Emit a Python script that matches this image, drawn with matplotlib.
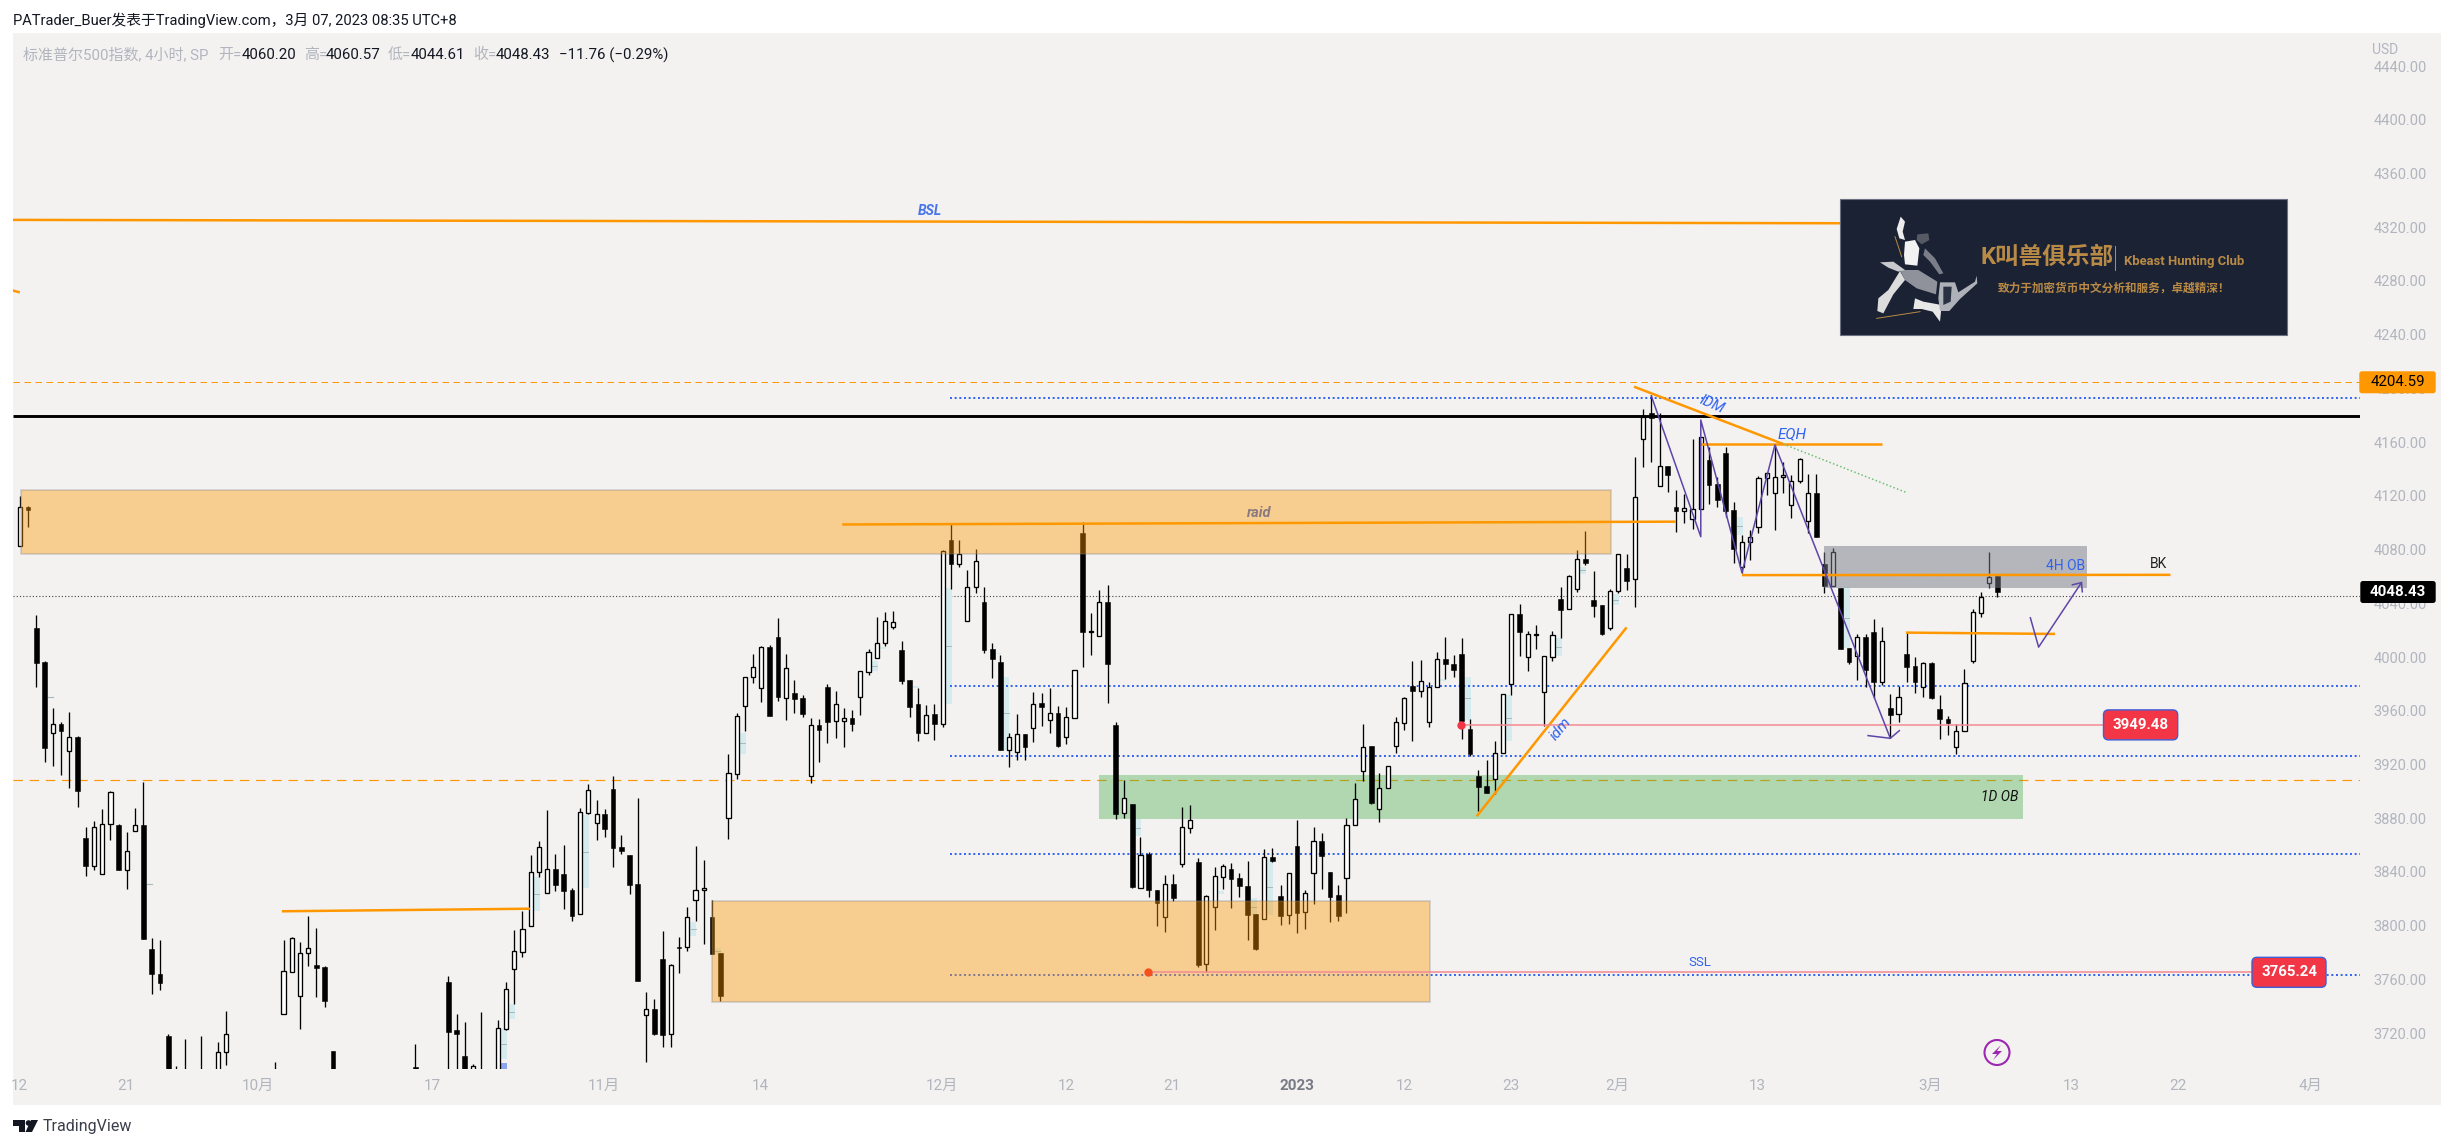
import numpy as np
import matplotlib
matplotlib.use("Agg")
import matplotlib.pyplot as plt
from matplotlib.patches import Rectangle, Polygon, FancyBboxPatch, Circle

plt.rcParams["font.family"] = ["Roboto", "Noto Sans CJK SC", "DejaVu Sans"]

W, H = 2454, 1148
PANE_L, PANE_R, PANE_T, PANE_B = 12.5, 2360, 33, 1069
BAR0_PX, BAR_PX = 36.3, 8.24
PRICE_REF, PRICE_REF_PX, PX_PER_PT = 4080, 549.6, 1.343

FIRST_BAR = -2
nan = np.nan
opens = [
    4082.9, 4111.9,
    4021.7, 3996.3, 3943.8, 3950.0, 3929.9, 3940.5, 3865.6, 3844.7, 3838.8, 3875.4,
    3874.9, 3841.6, 3870.7, 3874.9, 3782.4, 3763.8, 3717.7, 3685.0, 3690.0, nan,
    3690.0, nan, 3680.0, 3705.7, nan, nan, nan, nan, nan, 3690.0,
    3733.9, 3765.7, 3747.3, 3779.4, 3770.4, 3769.3, 3706.8, nan, nan, nan,
    nan, nan, nan, nan, nan, nan, 3694.8, nan, nan, nan,
    3757.9, 3722.4, 3702.6, 3688.0, 3690.0, nan, 3680.0, 3722.7, 3767.9, 3780.2,
    3799.5, 3839.7, 3824.1, 3842.0, 3838.3, 3826.3, 3808.4, 3884.1, 3876.3, 3883.0,
    3901.7, 3858.7, 3852.5, 3831.0, 3733.3, 3737.8, 3774.9, 3719.0, 3784.1, 3783.8,
    3818.8, 3826.3, 3806.2, 3779.4, 3879.9, 3913.1, 3963.4, 3984.9, 3977.3, 4007.5,
    4015.0, 3969.2, 3973.1, 3969.2, 3911.2, 3949.1, 3977.6, 3952.2, 3952.2, 3954.4,
    3970.1, 3988.5, 3999.1, 4010.8, 4022.6, 4005.3, 3982.6, 3964.8, 3943.8, 3957.5,
    3950.5, 4087.2, 4069.0, 4026.5, 4051.9, 4041.0, 4005.8, 3996.4, 3931.1, 3929.1,
    3943.0, 3947.5, 3965.7, 3952.8, 3958.7, 3940.8, 3954.8, 4092.4, 4019.0, 4015.4,
    4041.1, 3949.5, 3883.6, 3890.3, 3828.3, 3853.7, 3826.9, 3806.8, 3830.8, 3845.9,
    3873.0, 3847.3, 3771.1, 3814.0, 3836.4, 3842.3, 3835.3, 3829.2, 3808.5, 3805.2,
    3851.0, 3821.9, 3807.7, 3859.0, 3809.9, 3839.5, 3862.7, 3839.8, 3822.5, 3835.3,
    3874.7, 3915.4, 3933.6, 3886.7, 3902.8, 3934.1, 3951.2, 3978.3, 3974.9, 3952.0,
    3977.4, 3998.3, 3994.5, 4002.0, 3946.1, 3911.2, 3903.7, 3909.0, 3928.8, 3979.7,
    4032.0, 3999.8, 4016.7, 3973.7, 4000.3, 4043.0, 4035.5, 4050.9, 4073.0, 4042.2,
    4038.5, 4021.9, 4048.9, 4066.0, 4057.8, 4162.1, 4181.5, 4127.6, 4142.0, 4111.5,
    4109.0, 4102.5, 4110.0, 4146.7, 4128.8, 4151.9, 4109.5, 4067.3, 4085.4, 4096.6,
    4133.1, 4122.4, 4133.8, 4113.5, 4131.3, 4101.5, 4121.9, 4069.0, 4052.9, 4051.6,
    4006.7, 4001.0, 4014.7, 4018.4, 3981.4, 3961.8, 3957.3, 4002.0, 3993.3, 3977.4,
    3995.3, 3961.1, 3953.6, 3932.8, 3944.7, 3997.3, 4033.0, 4054.9, 4060.2,
]
highs = [
    4119.9, 4112.5,
    4031.2, 3997.4, 3961.7, 3951.6, 3959.2, 3941.0, 3873.5, 3878.0, 3886.9, 3900.5,
    3875.4, 3869.6, 3887.7, 3907.0, 3790.8, 3789.1, 3719.1, 3695.3, 3715.7, nan,
    3717.7, nan, 3713.5, 3736.4, nan, nan, nan, nan, nan, 3698.7,
    3789.1, 3791.4, 3787.5, 3807.3, 3798.4, 3770.2, 3707.0, nan, nan, nan,
    nan, nan, nan, nan, nan, nan, 3711.5, nan, nan, nan,
    3762.3, 3733.9, 3728.3, 3696.7, 3735.8, nan, 3729.7, 3758.2, 3796.4, 3810.9,
    3852.5, 3863.1, 3886.3, 3853.1, 3860.0, 3827.7, 3887.4, 3905.3, 3893.3, 3886.9,
    3911.2, 3867.6, 3852.5, 3894.7, 3750.6, 3745.6, 3795.8, 3771.8, 3791.7, 3813.7,
    3859.2, 3848.9, 3818.8, 3779.4, 3927.9, 3958.3, 3984.9, 4001.9, 4008.0, 4008.6,
    4029.0, 4002.5, 3982.6, 3971.7, 3954.7, 3953.6, 3979.6, 3974.8, 3961.7, 3960.6,
    3989.3, 4006.1, 4029.8, 4033.7, 4034.6, 4012.0, 3982.6, 3976.8, 3964.2, 3965.0,
    4079.7, 4100.0, 4087.2, 4064.8, 4080.5, 4052.2, 4010.3, 4001.2, 3943.3, 3957.6,
    3943.0, 3974.0, 3973.5, 3976.9, 3963.5, 3962.9, 3990.0, 4100.5, 4032.7, 4050.0,
    4053.4, 3951.5, 3908.5, 3890.3, 3866.0, 3854.8, 3826.9, 3837.8, 3838.6, 3888.3,
    3889.8, 3850.4, 3823.0, 3843.4, 3845.6, 3846.5, 3839.2, 3847.9, 3808.5, 3856.8,
    3857.6, 3830.3, 3839.5, 3878.8, 3826.4, 3873.6, 3868.8, 3839.8, 3830.3, 3880.5,
    3906.2, 3950.0, 3933.6, 3913.5, 3918.8, 3955.3, 3970.4, 3996.9, 3997.8, 3981.6,
    4003.4, 4014.6, 4001.2, 4014.3, 3954.2, 3916.0, 3923.0, 3937.2, 3972.2, 4032.0,
    4039.2, 4019.6, 4023.9, 4000.8, 4019.6, 4051.9, 4061.3, 4079.4, 4094.1, 4064.0,
    4038.5, 4050.7, 4076.5, 4076.7, 4148.7, 4184.7, 4195.1, 4182.0, 4142.0, 4124.4,
    4121.4, 4162.1, 4164.0, 4156.1, 4133.8, 4156.1, 4115.4, 4090.9, 4094.6, 4134.8,
    4138.0, 4157.9, 4145.5, 4135.5, 4148.0, 4136.3, 4136.3, 4078.5, 4080.9, 4051.6,
    4006.7, 4016.9, 4016.9, 4028.6, 4022.1, 3972.5, 3978.4, 4017.6, 3999.8, 3996.6,
    3996.6, 3971.7, 3956.1, 3950.1, 3990.8, 4035.5, 4048.2, 4078.0, 4060.57,
]
lows = [
    4082.9, 4097.0,
    3977.9, 3921.5, 3919.0, 3912.3, 3902.8, 3888.5, 3837.2, 3841.1, 3838.8, 3863.4,
    3841.6, 3827.4, 3870.7, 3789.7, 3749.2, 3752.3, 3675.0, 3670.0, 3670.0, nan,
    3670.0, nan, 3675.0, 3696.2, nan, nan, nan, nan, nan, 3680.0,
    3733.9, 3765.7, 3722.7, 3770.2, 3747.0, 3739.7, 3680.0, nan, nan, nan,
    nan, nan, nan, nan, nan, nan, 3680.0, nan, nan, nan,
    3685.0, 3685.0, 3680.0, 3685.0, 3680.0, nan, 3675.0, 3722.0, 3742.0, 3776.9,
    3799.5, 3836.3, 3824.1, 3826.0, 3812.6, 3803.7, 3808.4, 3883.0, 3863.4, 3866.2,
    3843.9, 3853.1, 3823.8, 3759.0, 3698.7, 3718.8, 3709.9, 3709.3, 3765.1, 3780.8,
    3803.7, 3786.6, 3779.1, 3744.2, 3864.8, 3909.2, 3945.2, 3980.7, 3966.7, 3956.4,
    3967.6, 3953.3, 3958.6, 3955.0, 3906.1, 3922.0, 3936.3, 3939.4, 3933.2, 3945.2,
    3957.2, 3986.8, 3999.1, 4008.3, 4020.6, 3980.1, 3955.6, 3937.7, 3943.8, 3938.2,
    3947.7, 4050.8, 4066.8, 4026.5, 4047.9, 4003.0, 3984.6, 3930.8, 3918.2, 3923.0,
    3923.0, 3936.4, 3948.4, 3943.3, 3933.3, 3935.3, 3954.8, 3992.8, 4001.2, 4015.4,
    3966.0, 3879.4, 3880.2, 3828.3, 3828.3, 3821.3, 3799.6, 3795.1, 3818.0, 3843.7,
    3868.8, 3769.4, 3765.5, 3796.8, 3827.5, 3813.5, 3821.3, 3789.0, 3781.7, 3805.2,
    3847.6, 3800.7, 3801.2, 3794.5, 3797.3, 3815.8, 3827.5, 3802.9, 3803.8, 3809.3,
    3874.7, 3907.9, 3890.9, 3877.2, 3902.8, 3928.6, 3945.6, 3937.5, 3969.9, 3948.1,
    3977.4, 3983.8, 3985.2, 3939.2, 3926.6, 3885.6, 3898.4, 3898.1, 3928.8, 3971.7,
    4000.8, 3989.9, 4005.7, 3948.7, 3997.3, 4013.9, 4035.5, 4048.7, 4068.8, 4030.0,
    4016.2, 4020.1, 4047.9, 4049.9, 4037.5, 4141.8, 4145.5, 4127.6, 4123.1, 4093.4,
    4100.0, 4095.6, 4110.0, 4114.0, 4112.0, 4104.5, 4069.8, 4062.3, 4072.2, 4092.6,
    4120.7, 4094.6, 4121.9, 4103.3, 4129.8, 4092.1, 4089.6, 4047.9, 4052.9, 4006.0,
    3994.8, 3982.9, 3977.4, 3969.2, 3979.2, 3940.7, 3951.6, 3981.7, 3973.5, 3970.5,
    3968.7, 3939.0, 3941.7, 3927.8, 3944.7, 3995.3, 4030.0, 4051.2, 4044.61,
]
closes = [
    4111.5, 4109.5,
    3995.8, 3932.1, 3950.5, 3945.2, 3940.2, 3900.5, 3844.7, 3873.2, 3875.4, 3899.2,
    3841.6, 3855.3, 3874.6, 3789.7, 3763.8, 3757.6, 3680.0, 3680.0, 3680.0, nan,
    3680.0, nan, 3705.7, 3719.1, nan, nan, nan, nan, nan, 3685.0,
    3766.0, 3790.5, 3779.4, 3783.0, 3768.8, 3744.2, 3685.0, nan, nan, nan,
    nan, nan, nan, nan, nan, nan, 3690.0, nan, nan, nan,
    3720.5, 3719.6, 3685.0, 3695.3, 3685.0, nan, 3723.5, 3752.6, 3780.8, 3797.2,
    3839.7, 3858.9, 3842.0, 3829.9, 3826.0, 3807.0, 3884.4, 3900.8, 3883.0, 3871.8,
    3858.1, 3855.6, 3830.5, 3759.0, 3737.8, 3719.3, 3718.8, 3770.4, 3783.0, 3806.2,
    3826.3, 3827.7, 3779.1, 3747.6, 3913.4, 3955.8, 3984.9, 3992.4, 4007.5, 3956.4,
    3970.3, 3991.6, 3969.0, 3957.5, 3949.1, 3946.0, 3951.9, 3964.8, 3954.4, 3950.0,
    3989.3, 4003.6, 4010.8, 4026.5, 4025.9, 3982.4, 3963.1, 3943.8, 3957.2, 3950.5,
    4079.2, 4069.0, 4076.5, 4051.9, 4071.3, 4005.3, 3998.3, 3930.8, 3940.8, 3943.0,
    3933.3, 3965.4, 3962.9, 3958.7, 3933.9, 3955.1, 3990.0, 4019.0, 4019.3, 4040.8,
    3995.0, 3883.3, 3895.3, 3828.9, 3852.3, 3826.9, 3817.2, 3830.8, 3820.5, 3873.3,
    3878.3, 3770.5, 3821.9, 3836.7, 3844.2, 3835.0, 3829.2, 3807.9, 3782.8, 3851.0,
    3848.1, 3807.4, 3839.0, 3809.3, 3824.1, 3862.7, 3852.0, 3821.3, 3807.4, 3874.7,
    3894.5, 3933.3, 3891.4, 3902.8, 3918.8, 3951.5, 3969.3, 3974.9, 3982.4, 3977.7,
    3998.9, 3994.7, 3990.5, 3952.6, 3928.0, 3902.9, 3898.4, 3928.8, 3972.2, 4032.0,
    4018.9, 4016.9, 4017.2, 4000.8, 4016.2, 4035.0, 4060.3, 4072.7, 4069.8, 4038.3,
    4017.2, 4049.2, 4076.5, 4056.9, 4118.9, 4178.7, 4178.2, 4142.0, 4135.5, 4109.0,
    4110.7, 4110.0, 4163.6, 4128.1, 4117.2, 4109.0, 4080.7, 4085.4, 4089.6, 4133.1,
    4136.8, 4133.8, 4135.8, 4131.3, 4147.2, 4121.9, 4089.6, 4053.2, 4078.5, 4006.0,
    3996.3, 4014.7, 3990.3, 3981.4, 4011.7, 3957.1, 3970.0, 3992.8, 3981.7, 3995.3,
    3969.2, 3953.6, 3951.1, 3944.7, 3980.9, 4033.3, 4045.0, 4059.8, 4048.43,
]

# fair value gaps: bar, top, bottom
gap_bars = [56, 57, 60, 66, 79, 82, 85, 101, 102, 106, 110, 116, 117, 133, 143, 147, 149,
            170, 173, 178, 184, 187, 191, 206, 219]
gap_tops = [3723.3, 3741.4, 3836.3, 3882.4, 3802.8, 3783.0, 3943.8, 3996.9, 4007.5, 3978.7,
            4051.3, 4003.0, 3985.2, 3879.2, 3826.0, 3820.5, 3849.8,
            3983.8, 3985.2, 3971.7, 4013.9, 4067.3, 4046.7, 4104.5, 4051.9]
gap_bots = [3700.9, 3730.3, 3811.2, 3828.0, 3792.2, 3779.0, 3927.9, 3989.9, 4006.0, 3977.3,
            3965.3, 4002.0, 3930.8, 3866.6, 3823.8, 3808.0, 3808.0,
            3982.4, 3953.1, 3937.7, 4001.0, 4061.8, 4038.7, 4090.9, 4006.5]
stray_tick_bars = [1, 13]
stray_tick_prices = [3970.0, 3830.7]

# drawn zones: left, right (bars), top, bottom
orange_zones = [(-1.9, 191.1, 4124.4, 4076.8), (82.0, 169.1, 3818.7, 3743.4)]
green_zone = (129.0, 241.1, 3912.1, 3879.2)
gray_zone = (217.0, 248.9, 4082.9, 4051.6)

blue_levels = [4192.9, 3978.5, 3926.6, 3853.5, 3763.4]
blue_levels_from = 110.9
orange_dash_top = 4204.59
orange_dash_low = 3908.3
black_level = 4179.7
dotted_level = 4045.5

orange_lines = [
    ([-2.9, 218.9], [4325.5, 4323.0]),
    ([29.8, 59.9], [3810.7, 3812.6]),
    ([97.8, 198.96], [4098.7, 4100.8]),
    ([193.9, 212.0], [4201.3, 4158.6]),
    ([201.9, 224.0], [4158.4, 4158.4]),
    ([207.0, 259.0], [4061.0, 4061.2]),
    ([226.9, 245.0], [4018.2, 4017.2]),
    ([174.8, 193.0], [3881.4, 4022.1]),
    ([-2.9, -2.0], [4273.0, 4271.5]),
]
purple_x = [196.0, 202.0, 202.0, 207.0, 211.0, 225.0]
purple_y = [4194.4, 4089.6, 4176.5, 4062.8, 4157.9, 3939.5]
purple_head1_x = [222.3, 225.0, 226.1]
purple_head1_y = [3941.5, 3939.5, 3945.2]
purple2_x = [242.0, 243.0, 248.2]
purple2_y = [4029.2, 4007.4, 4055.4]
purple_head2_x = [247.1, 248.2, 248.3]
purple_head2_y = [4053.8, 4055.4, 4048.6]
green_dots_x = [212.0, 227.0]
green_dots_y = [4158.6, 4122.4]

sell_line = (172.9, 250.9, 3949.7)
ssl_line = (134.9, 269.0, 3765.24)

y_ticks = list(range(3720, 4441, 40))
x_tick_bars = [-2, 10.85, 26.9, 48, 68.9, 87.9, 109.9, 125, 137.8, 153, 166, 178.9, 191.9,
               208.8, 229.8, 246.9, 259.9, 276]
x_tick_labels = ["12", "21", "10月", "17", "11月", "14", "12月", "12", "21", "2023", "12",
                 "23", "2月", "13", "3月", "13", "22", "4月"]

fig = plt.figure(figsize=(W / 100, H / 100), dpi=100, facecolor="white")

# pixel space layers
bg = fig.add_axes([0, 0, 1, 1], zorder=0)
bg.set_xlim(0, W)
bg.set_ylim(H, 0)
bg.axis("off")
bg.add_patch(Rectangle((12.5, 33), 2441 - 12.5, 1105 - 33, fc="#f3f2f1", ec="none"))

ax = fig.add_axes([PANE_L / W, 1 - PANE_B / H, (PANE_R - PANE_L) / W, (PANE_B - PANE_T) / H], zorder=1)
ax.patch.set_visible(False)
ax.set_xlim((PANE_L - BAR0_PX) / BAR_PX, (PANE_R - BAR0_PX) / BAR_PX)
ax.set_ylim(PRICE_REF - (PANE_B - PRICE_REF_PX) / PX_PER_PT, PRICE_REF + (PRICE_REF_PX - PANE_T) / PX_PER_PT)
for s in ax.spines.values():
    s.set_visible(False)

ORANGE = "#ff9800"
BLUE = "#2f62ee"
PURPLE = "#5e45a8"
TICK_GRAY = "#b2b5be"

ax.hlines(orange_dash_low, ax.get_xlim()[0], 283, color=ORANGE, lw=0.85, linestyles=(0, (8, 5.7)), zorder=1)
ax.hlines(orange_dash_top, ax.get_xlim()[0], ax.get_xlim()[1], color=ORANGE, lw=0.72, linestyles=(0, (6.5, 4.5)), zorder=1)
ax.hlines(dotted_level, ax.get_xlim()[0], ax.get_xlim()[1], color="#444444", lw=0.8, linestyles=(0, (1, 1.9)), zorder=1)

ax.add_patch(Rectangle((green_zone[0], green_zone[3]), green_zone[1] - green_zone[0], green_zone[2] - green_zone[3],
                       fc="#4caf50", alpha=0.4, ec="none", zorder=1.5))

for b, t, bt in zip(gap_bars, gap_tops, gap_bots):
    ax.add_patch(Rectangle((b + 0.35, bt), 0.75, t - bt, fc="#d5ebee", ec="none", zorder=2))
    if t - bt > 3:
        ax.plot([b + 0.4, b + 1.0], [(t + bt) / 2] * 2, color="#a9b8bb", lw=0.7, zorder=2.1)
ax.add_patch(Rectangle((56.35, 3693.4), 0.75, 4.6, fc="#8ca5f0", ec="none", zorder=2))
for b, p in zip(stray_tick_bars, stray_tick_prices):
    ax.plot([b + 0.4, b + 1.0], [p, p], color="#a9b8bb", lw=0.8, zorder=2.1)

ax.hlines(blue_levels, blue_levels_from, ax.get_xlim()[1], color=BLUE, lw=1.4, linestyles=(0, (1, 1.4)), zorder=2.5)

# candles
bars = np.arange(len(opens)) + FIRST_BAR
o = np.array(opens)
h = np.array(highs)
l = np.array(lows)
c = np.array(closes)
up = c >= o
ax.vlines(bars, l, h, color="black", lw=0.95, zorder=3)
ax.bar(bars[up], (c - o)[up], bottom=o[up], width=0.5, color="white", edgecolor="black", linewidth=0.95, zorder=3.2)
ax.bar(bars[~up], (o - c)[~up], bottom=c[~up], width=0.58, color="black", edgecolor="black", linewidth=0.4, zorder=3.2)

# zones sit above candles
for x0, x1, t, bt in orange_zones:
    ax.add_patch(Rectangle((x0, bt), x1 - x0, t - bt, fc=(1, 0.596, 0, 0.4), ec=(0.47, 0.48, 0.53, 0.3), lw=1.2, zorder=4))
ax.add_patch(Rectangle((gray_zone[0], gray_zone[3]), gray_zone[1] - gray_zone[0], gray_zone[2] - gray_zone[3],
                       fc="#787b86", alpha=0.5, ec="none", zorder=4))

ax.hlines(black_level, ax.get_xlim()[0], ax.get_xlim()[1], color="black", lw=2.1, zorder=5)
for xs, ys in orange_lines:
    ax.plot(xs, ys, color=ORANGE, lw=1.8, solid_capstyle="butt", zorder=5)
ax.plot(purple_x, purple_y, color=PURPLE, lw=1.1, zorder=5.1)
ax.plot(purple_head1_x, purple_head1_y, color=PURPLE, lw=1.1, zorder=5.1)
ax.plot(purple2_x, purple2_y, color=PURPLE, lw=1.1, zorder=5.1)
ax.plot(purple_head2_x, purple_head2_y, color=PURPLE, lw=1.1, zorder=5.1)
ax.plot(green_dots_x, green_dots_y, color="#6fbf73", lw=1.1, linestyle=(0, (1, 1.5)), zorder=5)

ax.plot(sell_line[:2], [sell_line[2]] * 2, color="#f58a93", lw=1.1, zorder=5)
ax.plot(sell_line[0], sell_line[2], "o", color="#f23645", ms=5, zorder=5.2)
ax.plot(ssl_line[:2], [ssl_line[2]] * 2, color="#f58a93", lw=1.1, zorder=5)
ax.plot(ssl_line[0], ssl_line[2], "o", color="#f4511e", ms=5, zorder=5.2)

ax.text(108.4, 4332, "BSL", color="#4a75e8", fontsize=10, style="italic", weight="bold", ha="center", va="center")
ax.text(148.4, 4107.5, "raid", color="#8a7a80", fontsize=10.5, style="italic", weight="bold", ha="center", va="center", zorder=6)
ax.text(203.4, 4187.7, "IDM", color=BLUE, fontsize=10.5, style="italic", rotation=-24, ha="center", va="center", zorder=6)
ax.text(213.1, 4165.8, "EQH", color=BLUE, fontsize=11, style="italic", ha="center", va="center", zorder=6)
ax.text(185, 3946.7, "idm", color=BLUE, fontsize=11, style="italic", rotation=50, ha="center", va="center", zorder=6)
ax.text(201.9, 3772.5, "SSL", color=BLUE, fontsize=9.5, ha="center", va="center", zorder=6)
ax.text(246.3, 4067.8, "4H OB", color=BLUE, fontsize=10, ha="center", va="center", zorder=6)
ax.text(257.6, 4069.3, "BK", color="#222222", fontsize=10, ha="center", va="center", zorder=6)
ax.text(238.3, 3896, "1D OB", color="#111111", fontsize=10, style="italic", ha="center", va="center", zorder=6)

ax.yaxis.tick_right()
ax.set_yticks(y_ticks)
ax.set_yticklabels([f"{v:.2f}" for v in y_ticks], color=TICK_GRAY, fontsize=10.5)
ax.tick_params(axis="y", length=0, pad=9.5)
ax.set_xticks(x_tick_bars)
ax.set_xticklabels(x_tick_labels, color=TICK_GRAY, fontsize=11)
ax.tick_params(axis="x", length=0, pad=7)
for lab in ax.get_xticklabels():
    if lab.get_text() == "2023":
        lab.set_fontweight("bold")
        lab.set_color("#787b86")

# overlay in pixels: header, banner, price tags, logo
top = fig.add_axes([0, 0, 1, 1], zorder=2)
top.set_xlim(0, W)
top.set_ylim(H, 0)
top.axis("off")

top.text(13, 20, "PATrader_Buer发表于TradingView.com，3月 07, 2023 08:35 UTC+8", color="#131722", fontsize=10.6, va="center")
legend_x = [23, 218, 242, 304, 326, 388, 411, 473, 496, 559]
legend_txt = ["标准普尔500指数, 4小时, SP", "开=", "4060.20", "高=", "4060.57", "低=", "4044.61", "收=", "4048.43", "−11.76 (−0.29%)"]
legend_col = [TICK_GRAY, TICK_GRAY, "#131722", TICK_GRAY, "#131722", TICK_GRAY, "#131722", TICK_GRAY, "#131722", "#131722"]
legend_size = [10.8, 10.8, 10.8, 10.8, 10.8, 10.8, 10.8, 10.8, 10.8, 10.8]
for x, s, col, fs in zip(legend_x, legend_txt, legend_col, legend_size):
    top.text(x, 55, s, color=col, fontsize=fs, va="center")
top.text(2385, 50, "USD", color=TICK_GRAY, fontsize=10, ha="center", va="center")

# banner, the rider sketched from the reference crop (crop pixels, 3x)
top.add_patch(Rectangle((1840, 199), 447, 136, fc="#1a2234", ec="#6b7080", lw=0.8))
GOLD = "#b98a45"
rider_parts = [
    ([(120, 195), (175, 195), (232, 230), (228, 268), (170, 250), (135, 225)], "#8f929a"),
    ([(195, 130), (225, 160), (250, 205), (238, 208), (210, 170), (190, 150)], "#7b7e87"),
    ([(172, 88), (205, 85), (208, 105), (185, 118), (170, 105)], "#565a64"),
    ([(122, 35), (135, 50), (128, 80), (135, 105), (118, 100), (110, 72)], "#ececec"),
    ([(135, 110), (165, 105), (178, 130), (172, 182), (135, 178), (132, 150)], "#f2f2f2"),
    ([(60, 172), (100, 170), (135, 195), (115, 200), (85, 188)], "#c8c9cd"),
    ([(120, 198), (135, 225), (100, 268), (70, 325), (52, 318), (55, 280), (85, 255)], "#dcdcdc"),
    ([(165, 280), (190, 290), (245, 300), (240, 350), (218, 320), (185, 312), (160, 312)], "#e8e8e8"),
    ([(240, 232), (285, 232), (295, 262), (345, 230), (350, 212), (352, 235), (300, 282), (268, 318),
      (240, 318), (235, 280)], "#aeb1b8"),
    ([(250, 245), (275, 245), (272, 290), (250, 300)], "#2a3142"),
]
for pts, col in rider_parts:
    top.add_patch(Polygon([(1860 + x / 3, 205 + y / 3) for x, y in pts], closed=True, fc=col, ec="none"))
top.plot([1860 + 50 / 3, 1860 + 180 / 3], [205 + 340 / 3, 205 + 320 / 3], color=GOLD, lw=0.7)
top.plot([1860 + 105 / 3, 1860 + 125 / 3], [205 + 95 / 3, 205 + 155 / 3], color=GOLD, lw=0.7)
top.text(1980, 257, "K叫兽俱乐部", color=GOLD, fontsize=17, weight="bold", va="center")
top.add_patch(Rectangle((2114.5, 246), 1.6, 25, fc=GOLD, ec="none"))
top.text(2124, 261, "Kbeast Hunting Club", color=GOLD, fontsize=9.4, weight="bold", va="center")
top.text(1998, 288, "致力于加密货币中文分析和服务，卓越精深！", color=GOLD, fontsize=8.4, weight="bold", va="center")


def price_px(p):
    return PRICE_REF_PX + (PRICE_REF - p) * PX_PER_PT


def tag(x0, x1, p, text, face, txt, edge=None, rad=2, bold=False):
    yc = price_px(p)
    hh = 10.3 if edge is None else 15
    top.add_patch(FancyBboxPatch((x0, yc - hh), x1 - x0, 2 * hh, boxstyle=f"round,pad=0,rounding_size={rad}",
                                 fc=face, ec=edge if edge else face, lw=1.0))
    top.text((x0 + x1) / 2, yc, text, color=txt, fontsize=10.8, ha="center", va="center",
             weight="bold" if bold else "normal")


tag(2360, 2435, orange_dash_top, "4204.59", ORANGE, "black")
tag(2361, 2435, 4048.43, "4048.43", "black", "white", bold=True)
tag(2103.5, 2177.7, 3949.48, "3949.48", "#f23645", "white", edge="#3d5fd8", rad=5, bold=True)
tag(2252, 2326, 3765.24, "3765.24", "#f23645", "white", edge="#3d5fd8", rad=5, bold=True)

# lightning marker
top.add_patch(Circle((1997, 1052.5), 12.5, fc="none", ec="#9c27b0", lw=1.5))
top.add_patch(Polygon([(2001, 1045), (1992, 1054), (1997, 1054), (1993, 1060), (2002, 1051), (1997, 1051)],
                      closed=True, fc="#9c27b0", ec="none"))

# logo
DARK = "#131722"
top.add_patch(Polygon([(13, 1120), (25, 1120), (25, 1132), (19, 1132), (19, 1126), (13, 1126)], closed=True, fc=DARK, ec="none"))
top.add_patch(Circle((28.5, 1123), 2.8, fc=DARK, ec="none"))
top.add_patch(Polygon([(31, 1120), (38, 1120), (32, 1132), (25.5, 1132)], closed=True, fc=DARK, ec="none"))
top.text(43, 1126, "TradingView", color="#3a3e4a", fontsize=11.5, va="center")

fig.savefig("out.png", dpi=100)
plt.close(fig)
